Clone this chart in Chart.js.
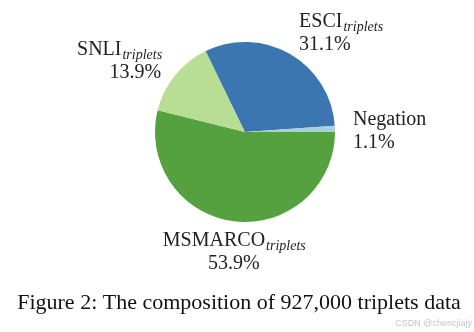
<!DOCTYPE html>
<html>
<head>
<meta charset="utf-8">
<script src="https://cdn.jsdelivr.net/npm/chart.js@4/dist/chart.umd.min.js"></script>
<style>
  html, body { margin: 0; padding: 0; background: #fff; }
  #wrap { width: 474px; height: 332px; position: relative; }
</style>
</head>
<body>
<div id="wrap"><canvas id="chartPie"></canvas></div>
<script>
// data (order is clockwise from 3 o'clock)
const categories = ['MSMARCO', 'SNLI', 'ESCI', 'Negation']
const subscripts = ['triplets', 'triplets', 'triplets', '']
const shares = [53.9, 13.9, 31.1, 1.1]
const sliceColors = ['#55a13f', '#b8dd94', '#3b76b0', '#a9cde2']

const caption = 'Figure 2: The composition of 927,000 triplets data'
const watermark = 'CSDN @chencjiajy'

const serif = '"Liberation Serif", "DejaVu Serif", serif'

// draws "NAME_sub" on one line and "xx.x%" under it, next to each slice
const sliceLabels = {
    id: 'sliceLabels',
    afterDraw(chart) {
        const ctx = chart.ctx
        const meta = chart.getDatasetMeta(0)
        const lineH = 23
        ctx.save()
        ctx.fillStyle = '#222'
        ctx.textBaseline = 'alphabetic'

        meta.data.forEach((arc, i) => {
            const mid = (arc.startAngle + arc.endAngle) / 2
            const r = arc.outerRadius * 1.2
            const cos = Math.cos(mid)
            const sin = Math.sin(mid)
            const px = arc.x + cos * r
            const py = arc.y + sin * r

            const mainFont = `20px ${serif}`
            const subFont = `italic 14px ${serif}`
            ctx.font = mainFont
            const wMain = ctx.measureText(categories[i]).width
            ctx.font = subFont
            const wSub = subscripts[i] ? ctx.measureText(subscripts[i]).width : 0
            const w1 = wMain + wSub
            ctx.font = mainFont
            const pct = shares[i].toFixed(1) + '%'
            const w2 = ctx.measureText(pct).width

            let align = 'center'
            if (cos > 0.25) align = 'left'
            else if (cos < -0.25) align = 'right'

            // block vertical center pushed a bit outward
            const cy = py + sin * 10
            const base1 = cy - 3
            const base2 = base1 + lineH

            const lineX = (w) => {
                if (align === 'left') return px
                if (align === 'right') return px - w
                return px + 2 - w / 2
            }

            let x1 = lineX(w1)
            ctx.font = mainFont
            ctx.fillText(categories[i], x1, base1)
            if (subscripts[i]) {
                ctx.font = subFont
                ctx.fillText(subscripts[i], x1 + wMain + 1, base1 + 4)
            }
            ctx.font = mainFont
            ctx.fillText(pct, lineX(w2), base2)
        })

        // caption
        ctx.font = `22px ${serif}`
        ctx.fillStyle = '#111'
        ctx.textAlign = 'center'
        ctx.fillText(caption, 239, 309)

        // watermark
        ctx.font = '9px "Liberation Sans", Arial, sans-serif'
        ctx.fillStyle = '#c4c4c4'
        ctx.textAlign = 'right'
        ctx.fillText(watermark, 472, 326)
        ctx.restore()
    }
}

const canvas = document.getElementById('chartPie')
const context = canvas.getContext('2d')

const chartPie = new Chart(context, {
    type: 'pie',
    data: {
        labels: categories,
        datasets: [
            {
                data: shares,
                backgroundColor: sliceColors,
                borderWidth: 0
            }
        ]
    },
    options: {
        responsive: true,
        maintainAspectRatio: false,
        animation: false,
        rotation: 90,
        layout: {
            padding: { left: 155, right: 139, top: 42, bottom: 110 }
        },
        plugins: {
            legend: { display: false },
            tooltip: { enabled: false },
            title: { display: false }
        }
    },
    plugins: [sliceLabels]
})
</script>
</body>
</html>
